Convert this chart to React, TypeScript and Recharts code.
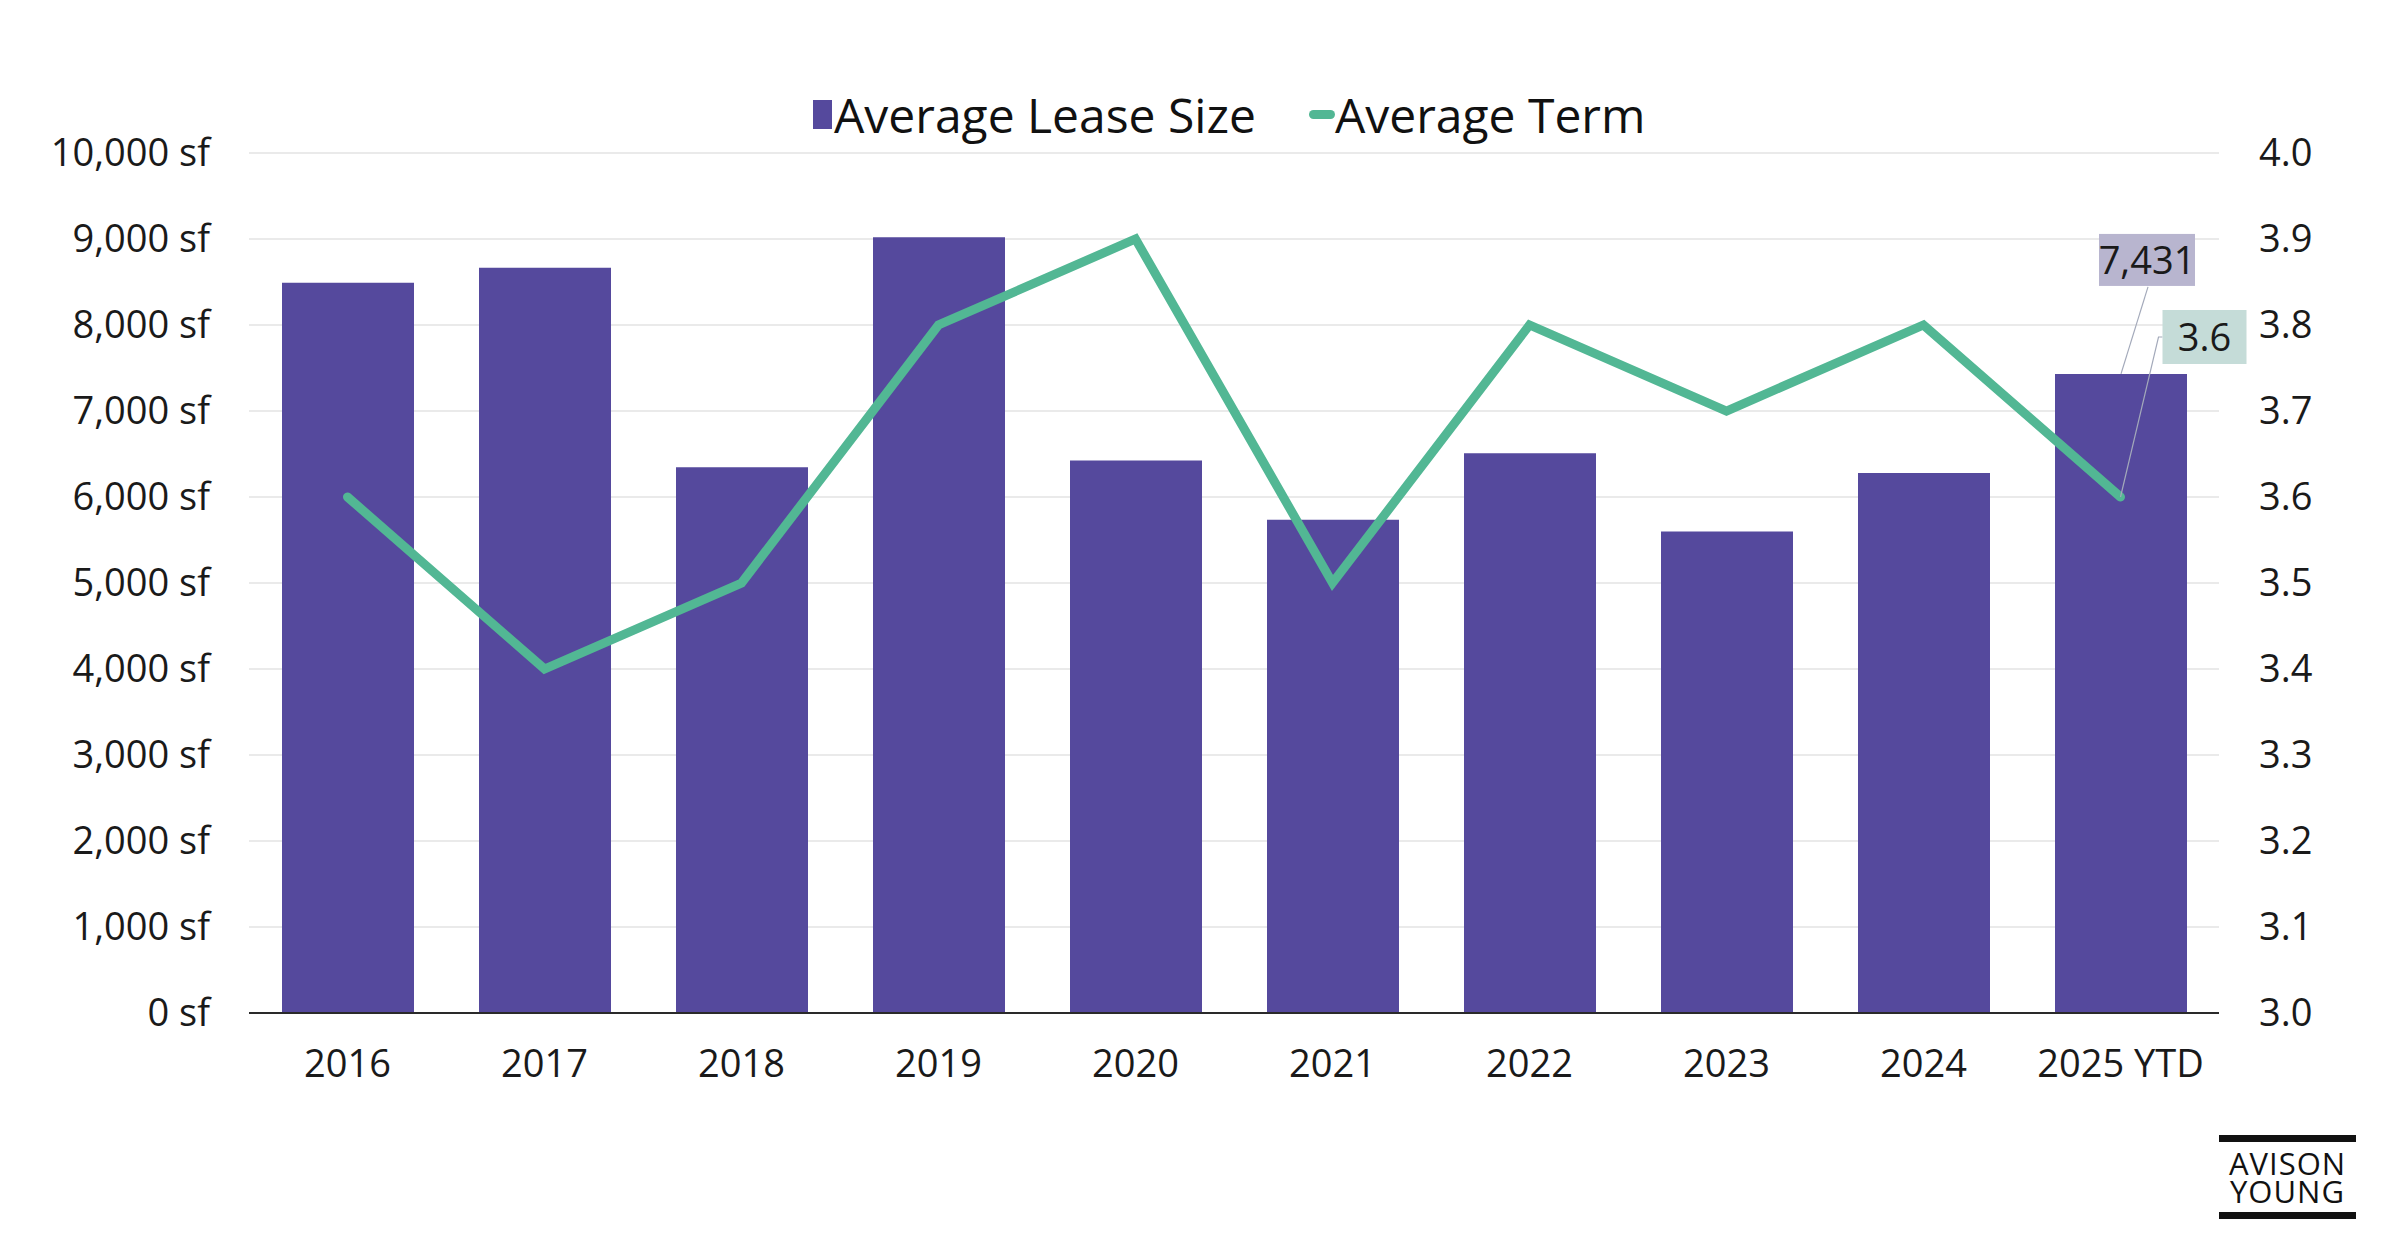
import React from "react";
import {
  ComposedChart,
  Bar,
  Line,
  XAxis,
  YAxis,
  CartesianGrid,
  LabelList,
} from "recharts";

const years = ["2016", "2017", "2018", "2019", "2020", "2021", "2022", "2023", "2024", "2025 YTD"];
const leaseSize = [8490, 8665, 6345, 9020, 6425, 5735, 6510, 5600, 6280, 7431];
const avgTerm = [3.6, 3.4, 3.5, 3.8, 3.9, 3.5, 3.8, 3.7, 3.8, 3.6];
const sizeTicks = [0, 1000, 2000, 3000, 4000, 5000, 6000, 7000, 8000, 9000, 10000];
const termTicks = [3.0, 3.1, 3.2, 3.3, 3.4, 3.5, 3.6, 3.7, 3.8, 3.9, 4.0];

const PURPLE = "#55499d";
const TEAL = "#52b794";
const FONT = "'Open Sans', sans-serif";

const chartData = years.map((year, i) => ({
  year,
  size: leaseSize[i],
  term: avgTerm[i],
}));

const lastIndex = years.length - 1;

// callout on the last bar only
function SizeCallout(props: any) {
  const { x, y, width, value, index } = props;
  if (index !== lastIndex) return null;
  const cx = x + width / 2;
  const boxW = 96;
  const boxH = 52;
  const bx = cx + 26 - boxW / 2;
  const by = y - 88 - boxH;
  return (
    <g>
      <line x1={cx} y1={y} x2={cx + 27} y2={y - 87} stroke="#a3a9ba" strokeWidth={1.2} />
      <rect x={bx} y={by} width={boxW} height={boxH} fill="#b8b5cf" />
      <text
        x={bx + boxW / 2}
        y={by + boxH / 2}
        dy="0.36em"
        textAnchor="middle"
        fontSize={38}
        fontFamily={FONT}
        fill="#1a1a1a"
      >
        {Number(value).toLocaleString("en-US")}
      </text>
    </g>
  );
}

// callout on the last line point only
function TermCallout(props: any) {
  const { x, y, value, index } = props;
  if (index !== lastIndex) return null;
  const boxW = 84;
  const boxH = 54;
  const bx = x + 42;
  const by = y - 187;
  return (
    <g>
      <polyline
        points={`${x},${y} ${x + 38},${y - 160} ${x + 42},${y - 160}`}
        fill="none"
        stroke="#a3a9ba"
        strokeWidth={1.2}
      />
      <rect x={bx} y={by} width={boxW} height={boxH} fill="#c5dcd8" />
      <text
        x={bx + boxW / 2}
        y={by + boxH / 2}
        dy="0.36em"
        textAnchor="middle"
        fontSize={38}
        fontFamily={FONT}
        fill="#1a1a1a"
      >
        {Number(value).toFixed(1)}
      </text>
    </g>
  );
}

const tickStyle = { fontSize: 38, fill: "#1a1a1a", fontFamily: FONT };

export default function App() {
  return (
    <div style={{ position: "relative", width: 2400, height: 1260, background: "#fff", fontFamily: FONT }}>
      <style>{`body{margin:0;}`}</style>

      {/* legend */}
      <div
        style={{
          position: "absolute",
          top: 84,
          left: 813,
          height: 60,
          display: "flex",
          alignItems: "center",
          fontSize: 48,
          color: "#111",
          whiteSpace: "nowrap",
          zIndex: 2,
        }}
      >
        <span style={{ width: 19, height: 29, background: PURPLE, display: "inline-block", marginRight: 2 }} />
        <span>Average Lease Size</span>
        <span
          style={{
            width: 26,
            height: 9,
            borderRadius: 4.5,
            background: TEAL,
            display: "inline-block",
            marginLeft: 53,
          }}
        />
        <span>Average Term</span>
      </div>

      <ComposedChart
        width={2400}
        height={1260}
        data={chartData}
        margin={{ top: 153, right: 31, bottom: 187, left: 49 }}
      >
        <CartesianGrid yAxisId="size" vertical={false} stroke="#e3e3e3" strokeWidth={1.5} />
        <XAxis
          dataKey="year"
          axisLine={{ stroke: "#2a2a2a", strokeWidth: 2 }}
          tickLine={false}
          tickSize={0}
          tickMargin={37}
          tick={tickStyle}
          interval={0}
          height={60}
        />
        <YAxis
          yAxisId="size"
          orientation="left"
          width={200}
          domain={[0, 10000]}
          ticks={sizeTicks}
          axisLine={false}
          tickLine={false}
          tickSize={0}
          tickMargin={39}
          tick={tickStyle}
          tickFormatter={(v: number) => `${v.toLocaleString("en-US")} sf`}
        />
        <YAxis
          yAxisId="term"
          orientation="right"
          width={150}
          domain={[3.0, 4.0]}
          ticks={termTicks}
          axisLine={false}
          tickLine={false}
          tickSize={0}
          tickMargin={40}
          tick={tickStyle}
          tickFormatter={(v: number) => v.toFixed(1)}
        />
        <Bar yAxisId="size" dataKey="size" fill={PURPLE} barSize={132} isAnimationActive={false}>
          <LabelList dataKey="size" content={SizeCallout} />
        </Bar>
        <Line
          yAxisId="term"
          type="linear"
          dataKey="term"
          stroke={TEAL}
          strokeWidth={9}
          strokeLinecap="round"
          strokeLinejoin="miter"
          dot={false}
          activeDot={false}
          isAnimationActive={false}
        >
          <LabelList dataKey="term" content={TermCallout} />
        </Line>
      </ComposedChart>

      {/* logo */}
      <svg style={{ position: "absolute", left: 2219, top: 1135 }} width={137} height={84}>
        <rect x={0} y={0} width={137} height={7} fill="#111" />
        <text x={68.5} y={40} textAnchor="middle" fontSize={31} fontWeight={500} fontFamily={FONT} fill="#111" letterSpacing={1}>
          AVISON
        </text>
        <text x={68.5} y={68} textAnchor="middle" fontSize={31} fontWeight={500} fontFamily={FONT} fill="#111" letterSpacing={1}>
          YOUNG
        </text>
        <rect x={0} y={77} width={137} height={7} fill="#111" />
      </svg>
    </div>
  );
}
